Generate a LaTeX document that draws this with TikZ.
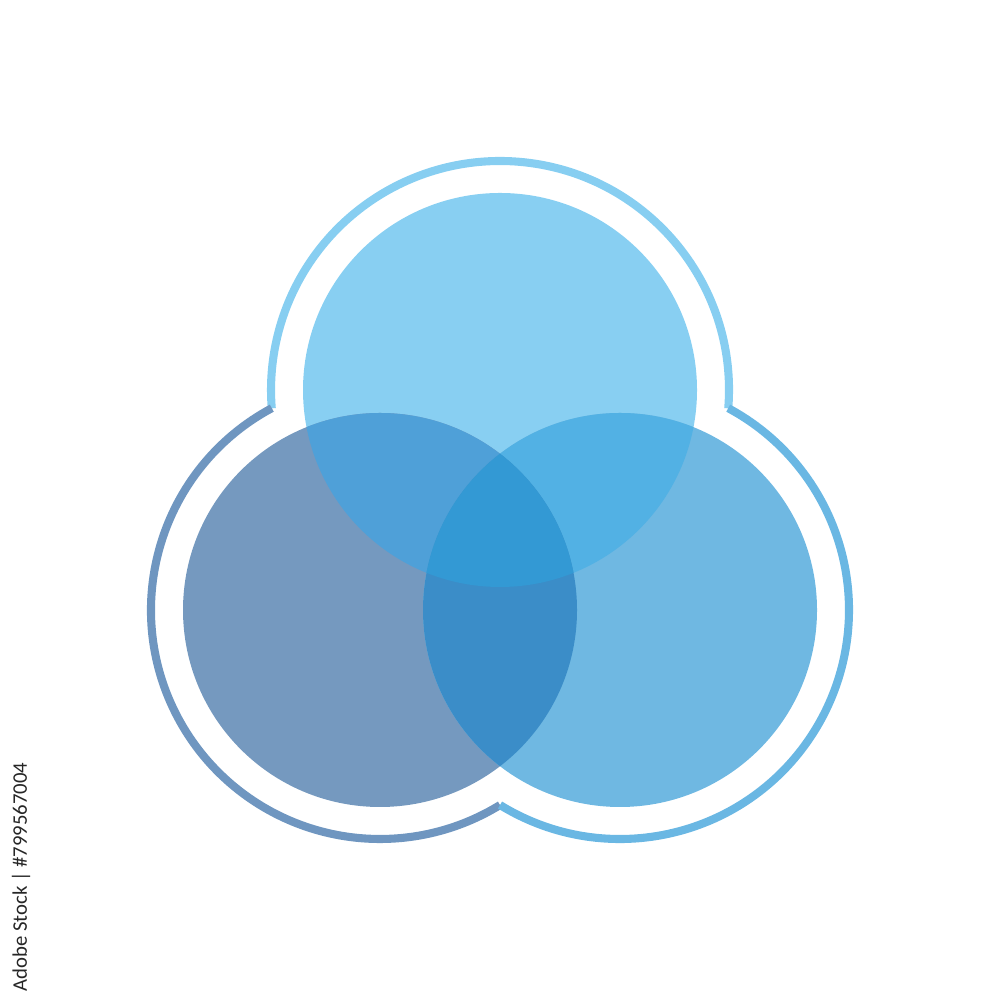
\documentclass[tikz,border=0pt]{standalone}
\usepackage{fontspec}
\newfontfamily\stockfont{Carlito}
\definecolor{topfill}{HTML}{88CFF2}
\definecolor{leftfill}{HTML}{7599BF}
\definecolor{rightfill}{HTML}{6FB8E2}
\definecolor{tlfill}{HTML}{4FA0D8}
\definecolor{trfill}{HTML}{52B1E4}
\definecolor{lrfill}{HTML}{3B8DC8}
\definecolor{midfill}{HTML}{3399D4}
\definecolor{toprim}{HTML}{87CEF1}
\definecolor{leftrim}{HTML}{6F96C0}
\definecolor{rightrim}{HTML}{6AB7E3}

\begin{document}
\begin{tikzpicture}[
 disc/.style = {circle, minimum size=3.94cm,% inner circles
                inner sep=0pt, outer sep=0pt},
  rim/.style = {line width=2.3pt, line cap=butt},% outer contour arcs
                    ]
\useasboundingbox (0,0) rectangle (10,10);
% the three circles
\node[disc, fill=topfill]   (T) at (5.0,6.1) {};
\node[disc, fill=leftfill]  (L) at (3.8,3.9) {};
\node[disc, fill=rightfill] (R) at (6.2,3.9) {};
% overlaps of two circles
\foreach \a/\b/\c in {T/L/tlfill, T/R/trfill, L/R/lrfill}
{
\begin{scope}
    \clip (\a.center) circle (1.97);
    \fill[\c] (\b.center) circle (1.97);
\end{scope}
}
% overlap of all three
\begin{scope}
    \clip (T.center) circle (1.97);
    \clip (L.center) circle (1.97);
    \fill[midfill] (R.center) circle (1.97);
\end{scope}
% contour
\draw[rim, toprim]   ([shift={(-4.6:2.29)}]T.center) arc (-4.6:184.6:2.29);
\draw[rim, leftrim]  ([shift={(118.2:2.29)}]L.center) arc (118.2:301.6:2.29);
\draw[rim, rightrim] ([shift={(238.4:2.29)}]R.center) arc (238.4:421.8:2.29);
% id
\node[rotate=90, text=black!85, font=\stockfont\fontsize{5.9}{7}\selectfont]
    (id) at (0.21,1.23) {Adobe Stock | \#799567004};
\end{tikzpicture}
\end{document}
